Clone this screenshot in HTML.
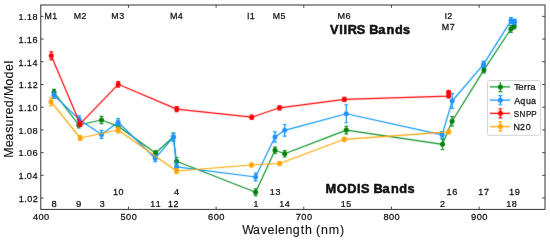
<!DOCTYPE html>
<html><head><meta charset="utf-8"><title>Measured/Model</title>
<style>html,body{margin:0;padding:0;background:#fff;overflow:hidden;}svg{display:block;will-change:transform;font-family:"Liberation Sans",sans-serif;}</style>
</head><body>
<svg width="550" height="240" viewBox="0 0 550 240">
<defs><filter id="soft" x="0" y="0" width="100%" height="100%" color-interpolation-filters="sRGB"><feConvolveMatrix order="3" kernelMatrix="0.0200 0.0700 0.0200 0.0700 0.6400 0.0700 0.0200 0.0700 0.0200" divisor="1" edgeMode="duplicate"/></filter></defs>
<rect width="550" height="240" fill="#fff"/>
<g filter="url(#soft)">
<rect width="550" height="240" fill="#fff"/>
<g fill="#008000"><path d="M54.00,92.30 L78.75,125.00 L101.50,120.00 L118.10,126.20 L155.60,153.00 L173.30,137.00 L176.50,161.30 L255.60,192.20 L275.00,150.30 L284.70,153.80 L346.30,130.10 L442.50,144.30 L452.10,121.30 L483.90,69.90 L510.90,29.00 L514.20,26.30" fill="none" stroke="#0a9228" stroke-width="1.2" stroke-linejoin="round"/>
<path d="M54.00,89.30V95.30M52.10,89.30H55.90M52.10,95.30H55.90M78.75,122.00V128.00M76.85,122.00H80.65M76.85,128.00H80.65M101.50,116.40V123.60M99.60,116.40H103.40M99.60,123.60H103.40M118.10,123.20V129.20M116.20,123.20H120.00M116.20,129.20H120.00M155.60,150.80V155.20M153.70,150.80H157.50M153.70,155.20H157.50M173.30,133.00V141.00M171.40,133.00H175.20M171.40,141.00H175.20M176.50,157.50V165.10M174.60,157.50H178.40M174.60,165.10H178.40M255.60,188.80V195.60M253.70,188.80H257.50M253.70,195.60H257.50M275.00,147.10V153.50M273.10,147.10H276.90M273.10,153.50H276.90M284.70,150.60V157.00M282.80,150.60H286.60M282.80,157.00H286.60M346.30,126.30V133.90M344.40,126.30H348.20M344.40,133.90H348.20M442.50,139.10V149.50M440.60,139.10H444.40M440.60,149.50H444.40M452.10,116.70V125.90M450.20,116.70H454.00M450.20,125.90H454.00M483.90,66.90V72.90M482.00,66.90H485.80M482.00,72.90H485.80M510.90,25.50V32.50M509.00,25.50H512.80M509.00,32.50H512.80M514.20,23.80V28.80M512.30,23.80H516.10M512.30,28.80H516.10" stroke="#0a9228" stroke-width="1.2" fill="none"/>
<circle cx="54.00" cy="92.30" r="2.5"/>
<circle cx="78.75" cy="125.00" r="2.5"/>
<circle cx="101.50" cy="120.00" r="2.5"/>
<circle cx="118.10" cy="126.20" r="2.5"/>
<circle cx="155.60" cy="153.00" r="2.5"/>
<circle cx="173.30" cy="137.00" r="2.5"/>
<circle cx="176.50" cy="161.30" r="2.5"/>
<circle cx="255.60" cy="192.20" r="2.5"/>
<circle cx="275.00" cy="150.30" r="2.5"/>
<circle cx="284.70" cy="153.80" r="2.5"/>
<circle cx="346.30" cy="130.10" r="2.5"/>
<circle cx="442.50" cy="144.30" r="2.5"/>
<circle cx="452.10" cy="121.30" r="2.5"/>
<circle cx="483.90" cy="69.90" r="2.5"/>
<circle cx="510.90" cy="29.00" r="2.5"/>
<circle cx="514.20" cy="26.30" r="2.5"/></g>
<g fill="#1E90FF"><path d="M54.00,95.30 L79.20,119.40 L101.50,134.40 L118.10,122.20 L155.20,158.30 L173.50,137.10 L176.50,166.90 L255.60,177.00 L275.00,137.00 L284.70,130.30 L346.30,113.75 L442.10,134.80 L452.20,101.00 L483.50,64.40 L511.00,20.60 L514.60,21.80" fill="none" stroke="#0a96ff" stroke-width="1.2" stroke-linejoin="round"/>
<path d="M54.00,92.10V98.50M52.10,92.10H55.90M52.10,98.50H55.90M79.20,115.90V122.90M77.30,115.90H81.10M77.30,122.90H81.10M101.50,130.40V138.40M99.60,130.40H103.40M99.60,138.40H103.40M118.10,118.70V125.70M116.20,118.70H120.00M116.20,125.70H120.00M155.20,154.90V161.70M153.30,154.90H157.10M153.30,161.70H157.10M173.50,133.30V140.90M171.60,133.30H175.40M171.60,140.90H175.40M176.50,163.90V169.90M174.60,163.90H178.40M174.60,169.90H178.40M255.60,173.10V180.90M253.70,173.10H257.50M253.70,180.90H257.50M275.00,131.80V142.20M273.10,131.80H276.90M273.10,142.20H276.90M284.70,124.50V136.10M282.80,124.50H286.60M282.80,136.10H286.60M346.30,104.75V122.75M344.40,104.75H348.20M344.40,122.75H348.20M442.10,131.50V138.10M440.20,131.50H444.00M440.20,138.10H444.00M452.20,93.70V108.30M450.30,93.70H454.10M450.30,108.30H454.10M483.50,61.40V67.40M481.60,61.40H485.40M481.60,67.40H485.40M511.00,17.60V23.60M509.10,17.60H512.90M509.10,23.60H512.90M514.60,19.30V24.30M512.70,19.30H516.50M512.70,24.30H516.50" stroke="#0a96ff" stroke-width="1.2" fill="none"/>
<circle cx="54.00" cy="95.30" r="2.5"/>
<circle cx="79.20" cy="119.40" r="2.5"/>
<circle cx="101.50" cy="134.40" r="2.5"/>
<circle cx="118.10" cy="122.20" r="2.5"/>
<circle cx="155.20" cy="158.30" r="2.5"/>
<circle cx="173.50" cy="137.10" r="2.5"/>
<circle cx="176.50" cy="166.90" r="2.5"/>
<circle cx="255.60" cy="177.00" r="2.5"/>
<circle cx="275.00" cy="137.00" r="2.5"/>
<circle cx="284.70" cy="130.30" r="2.5"/>
<circle cx="346.30" cy="113.75" r="2.5"/>
<circle cx="442.10" cy="134.80" r="2.5"/>
<circle cx="452.20" cy="101.00" r="2.5"/>
<circle cx="483.50" cy="64.40" r="2.5"/>
<circle cx="511.00" cy="20.60" r="2.5"/>
<circle cx="514.60" cy="21.80" r="2.5"/></g>
<g fill="#FF0000"><path d="M51.25,55.70 L80.20,123.90 L118.20,84.30 L176.70,109.10 L251.70,117.20 L279.50,107.80 L344.40,99.40 L448.60,96.10 L448.60,92.30" fill="none" stroke="#FF0000" stroke-width="1.2" stroke-linejoin="round"/>
<path d="M51.25,51.80V59.60M49.35,51.80H53.15M49.35,59.60H53.15M80.20,121.40V126.40M78.30,121.40H82.10M78.30,126.40H82.10M118.20,81.50V87.10M116.30,81.50H120.10M116.30,87.10H120.10M176.70,106.60V111.60M174.80,106.60H178.60M174.80,111.60H178.60M251.70,115.20V119.20M249.80,115.20H253.60M249.80,119.20H253.60M279.50,105.80V109.80M277.60,105.80H281.40M277.60,109.80H281.40M344.40,97.40V101.40M342.50,97.40H346.30M342.50,101.40H346.30M448.60,94.60V97.60M446.70,94.60H450.50M446.70,97.60H450.50M448.60,90.80V93.80M446.70,90.80H450.50M446.70,93.80H450.50" stroke="#FF0000" stroke-width="1.2" fill="none"/>
<circle cx="51.25" cy="55.70" r="2.5"/>
<circle cx="80.20" cy="123.90" r="2.5"/>
<circle cx="118.20" cy="84.30" r="2.5"/>
<circle cx="176.70" cy="109.10" r="2.5"/>
<circle cx="251.70" cy="117.20" r="2.5"/>
<circle cx="279.50" cy="107.80" r="2.5"/>
<circle cx="344.40" cy="99.40" r="2.5"/>
<circle cx="448.60" cy="96.10" r="2.5"/>
<circle cx="448.60" cy="92.30" r="2.5"/></g>
<g fill="#FFA500"><path d="M51.00,101.70 L80.20,138.00 L118.10,130.00 L176.50,171.00 L251.50,165.00 L279.60,163.50 L344.30,139.30 L448.70,131.80" fill="none" stroke="#FFA500" stroke-width="1.2" stroke-linejoin="round"/>
<path d="M51.00,97.70V105.70M49.10,97.70H52.90M49.10,105.70H52.90M80.20,135.50V140.50M78.30,135.50H82.10M78.30,140.50H82.10M118.10,127.20V132.80M116.20,127.20H120.00M116.20,132.80H120.00M176.50,168.50V173.50M174.60,168.50H178.40M174.60,173.50H178.40M251.50,163.00V167.00M249.60,163.00H253.40M249.60,167.00H253.40M279.60,161.50V165.50M277.70,161.50H281.50M277.70,165.50H281.50M344.30,137.30V141.30M342.40,137.30H346.20M342.40,141.30H346.20M448.70,129.80V133.80M446.80,129.80H450.60M446.80,133.80H450.60" stroke="#FFA500" stroke-width="1.2" fill="none"/>
<circle cx="51.00" cy="101.70" r="2.5"/>
<circle cx="80.20" cy="138.00" r="2.5"/>
<circle cx="118.10" cy="130.00" r="2.5"/>
<circle cx="176.50" cy="171.00" r="2.5"/>
<circle cx="251.50" cy="165.00" r="2.5"/>
<circle cx="279.60" cy="163.50" r="2.5"/>
<circle cx="344.30" cy="139.30" r="2.5"/>
<circle cx="448.70" cy="131.80" r="2.5"/></g>
</g>
<rect x="40.8" y="5.0" width="504.2" height="204.4" fill="none" stroke="#333" stroke-width="1.0"/>
<path d="M40.8,198.05h2.8M545.0,198.05h-2.8M40.8,175.34h2.8M545.0,175.34h-2.8M40.8,152.63h2.8M545.0,152.63h-2.8M40.8,129.92h2.8M545.0,129.92h-2.8M40.8,107.20h2.8M545.0,107.20h-2.8M40.8,84.49h2.8M545.0,84.49h-2.8M40.8,61.78h2.8M545.0,61.78h-2.8M40.8,39.07h2.8M545.0,39.07h-2.8M40.8,16.36h2.8M545.0,16.36h-2.8M128.46,209.4v-2.8M128.46,5.0v2.8M216.12,209.4v-2.8M216.12,5.0v2.8M303.78,209.4v-2.8M303.78,5.0v2.8M391.44,209.4v-2.8M391.44,5.0v2.8M479.10,209.4v-2.8M479.10,5.0v2.8" stroke="#333" stroke-width="0.9" fill="none"/>
<g fill="#111" stroke="#111" stroke-width="0.25">
<text transform="scale(0.9222,1)" x="20.43 26.37 29.56 35.51" y="201.80" font-size="9.84">1.02</text>
<text transform="scale(0.9317,1)" x="19.76 25.67 28.80 34.83" y="179.09" font-size="9.84">1.04</text>
<text transform="scale(0.9419,1)" x="19.59 25.44 28.53 34.49" y="156.38" font-size="9.84">1.06</text>
<text transform="scale(0.9356,1)" x="19.79 25.67 28.79 34.79" y="133.67" font-size="9.84">1.08</text>
<text transform="scale(0.9196,1)" x="20.16 26.12 29.29 35.40" y="110.95" font-size="9.84">1.10</text>
<text transform="scale(0.9073,1)" x="20.81 26.83 30.06 36.14" y="88.24" font-size="9.84">1.12</text>
<text transform="scale(0.9199,1)" x="20.06 26.02 29.19 35.32" y="65.53" font-size="9.81">1.14</text>
<text transform="scale(0.9277,1)" x="19.93 25.86 28.98 35.06" y="42.82" font-size="9.84">1.16</text>
<text transform="scale(0.9213,1)" x="20.14 26.09 29.25 35.37" y="20.11" font-size="9.84">1.18</text>
<text transform="scale(0.9437,1)" x="34.86 40.77 46.71" y="220.10" font-size="9.84">400</text>
<text transform="scale(0.9275,1)" x="129.86 135.91 141.95" y="220.10" font-size="9.84">500</text>
<text transform="scale(0.9546,1)" x="217.98 223.84 229.70" y="220.10" font-size="9.84">600</text>
<text transform="scale(0.9392,1)" x="314.88 320.85 326.81" y="220.10" font-size="9.84">700</text>
<text transform="scale(0.9480,1)" x="404.46 410.36 416.26" y="220.10" font-size="9.84">800</text>
<text transform="scale(0.9546,1)" x="493.45 499.35 505.22" y="220.10" font-size="9.84">900</text>
<text transform="scale(0.9561,1)" x="253.33 264.50 272.76 279.86 287.53 290.88 298.60 306.32 314.51 319.08 326.59 330.43 335.65 343.77 355.74" y="234.10" font-size="12.99" stroke-width="0.12">Wavelength (nm)</text>
<text transform="translate(13.00,109.05) rotate(-90) scale(0.9558,1)" x="-50.88 -39.93 -32.83 -24.92 -18.28 -10.14 -5.72 1.90 9.79 13.59 24.48 32.10 39.92 47.59" y="0" font-size="12.99" stroke-width="0.12">Measured/Model</text>
<text transform="scale(0.8990,1)" x="49.50 58.16" y="18.90" font-size="9.81">M1</text>
<text transform="scale(0.9006,1)" x="81.86 90.41" y="18.90" font-size="9.84">M2</text>
<text transform="scale(0.8986,1)" x="123.92 132.62" y="18.90" font-size="9.84">M3</text>
<text transform="scale(0.9161,1)" x="185.55 194.11" y="18.90" font-size="9.81">M4</text>
<text transform="scale(0.9140,1)" x="270.21 273.29" y="18.90" font-size="9.81">I1</text>
<text transform="scale(0.8950,1)" x="304.81 313.50" y="18.90" font-size="9.81">M5</text>
<text transform="scale(0.9263,1)" x="364.46 372.94" y="18.90" font-size="9.84">M6</text>
<text transform="scale(0.9192,1)" x="483.66 486.61" y="18.90" font-size="9.84">I2</text>
<text transform="scale(0.9089,1)" x="486.15 494.74" y="30.30" font-size="9.81">M7</text>
<text transform="scale(0.9798,1)" x="336.75 346.19 350.67 354.80 364.05 372.66 376.74 386.03 394.50 403.02 411.40" y="34.00" font-size="12.99" font-weight="bold" stroke-width="0.55">VIIRS Bands</text>
<text transform="scale(0.9823,1)" x="331.47 342.93 353.44 363.47 367.56 376.16 380.22 389.48 397.93 406.43 414.79" y="193.30" font-size="12.99" font-weight="bold" stroke-width="0.55">MODIS Bands</text>
<text transform="scale(0.9518,1)" x="54.11" y="207.00" font-size="9.84">8</text>
<text transform="scale(0.9720,1)" x="78.17" y="207.00" font-size="9.84">9</text>
<text transform="scale(0.9041,1)" x="110.23" y="207.00" font-size="9.84">3</text>
<text transform="scale(0.9021,1)" x="166.58 172.78" y="207.00" font-size="9.81">11</text>
<text transform="scale(0.9047,1)" x="185.69 191.78" y="207.00" font-size="9.84">12</text>
<text transform="scale(0.9021,1)" x="281.03" y="207.00" font-size="9.81">1</text>
<text transform="scale(0.9232,1)" x="302.42 308.53" y="207.00" font-size="9.81">14</text>
<text transform="scale(0.8969,1)" x="379.87 386.11" y="207.00" font-size="9.81">15</text>
<text transform="scale(0.9094,1)" x="483.91" y="207.00" font-size="9.84">2</text>
<text transform="scale(0.9269,1)" x="546.08 552.16" y="207.00" font-size="9.84">18</text>
<text transform="scale(0.9242,1)" x="122.16 128.24" y="195.50" font-size="9.84">10</text>
<text transform="scale(0.9413,1)" x="184.96" y="195.50" font-size="9.81">4</text>
<text transform="scale(0.9021,1)" x="299.06 305.31" y="195.50" font-size="9.84">13</text>
<text transform="scale(0.9371,1)" x="476.55 482.56" y="195.50" font-size="9.84">16</text>
<text transform="scale(0.9147,1)" x="522.99 529.13" y="195.50" font-size="9.81">17</text>
<text transform="scale(0.9371,1)" x="543.28 549.24" y="195.50" font-size="9.84">19</text>
</g>
<rect x="487.5" y="80.5" width="52.9" height="54.8" rx="2" fill="#fff" fill-opacity="0.8" stroke="#d0d0d0" stroke-width="0.9"/>
<g filter="url(#soft)">
<path d="M490.4,86.95H509.1M500.4,82.35V91.55M498.50,82.35H502.30M498.50,91.55H502.30" stroke="#0a9228" stroke-width="1.2" fill="none"/>
<circle cx="500.4" cy="86.95" r="2.5" fill="#008000"/>
<path d="M490.4,100.15H509.1M500.4,95.55V104.75M498.50,95.55H502.30M498.50,104.75H502.30" stroke="#0a96ff" stroke-width="1.2" fill="none"/>
<circle cx="500.4" cy="100.15" r="2.5" fill="#1E90FF"/>
<path d="M490.4,113.35H509.1M500.4,108.75V117.95M498.50,108.75H502.30M498.50,117.95H502.30" stroke="#FF0000" stroke-width="1.2" fill="none"/>
<circle cx="500.4" cy="113.35" r="2.5" fill="#FF0000"/>
<path d="M490.4,126.55H509.1M500.4,121.95V131.15M498.50,121.95H502.30M498.50,131.15H502.30" stroke="#FFA500" stroke-width="1.2" fill="none"/>
<circle cx="500.4" cy="126.55" r="2.5" fill="#FFA500"/>
</g>
<g fill="#111" stroke="#111" stroke-width="0.25">
<text transform="scale(0.9758,1)" x="526.75 531.02 536.87 540.42 543.46" y="90.40" font-size="9.81">Terra</text>
<text transform="scale(0.9090,1)" x="565.65 572.36 578.54 584.25" y="103.60" font-size="9.81">Aqua</text>
<text transform="scale(0.8193,1)" x="627.07 634.16 641.88 648.36" y="116.80" font-size="9.84">SNPP</text>
<text transform="scale(0.9127,1)" x="562.51 569.87 576.13" y="130.00" font-size="9.84">N20</text>
</g>
</svg>
</body></html>
